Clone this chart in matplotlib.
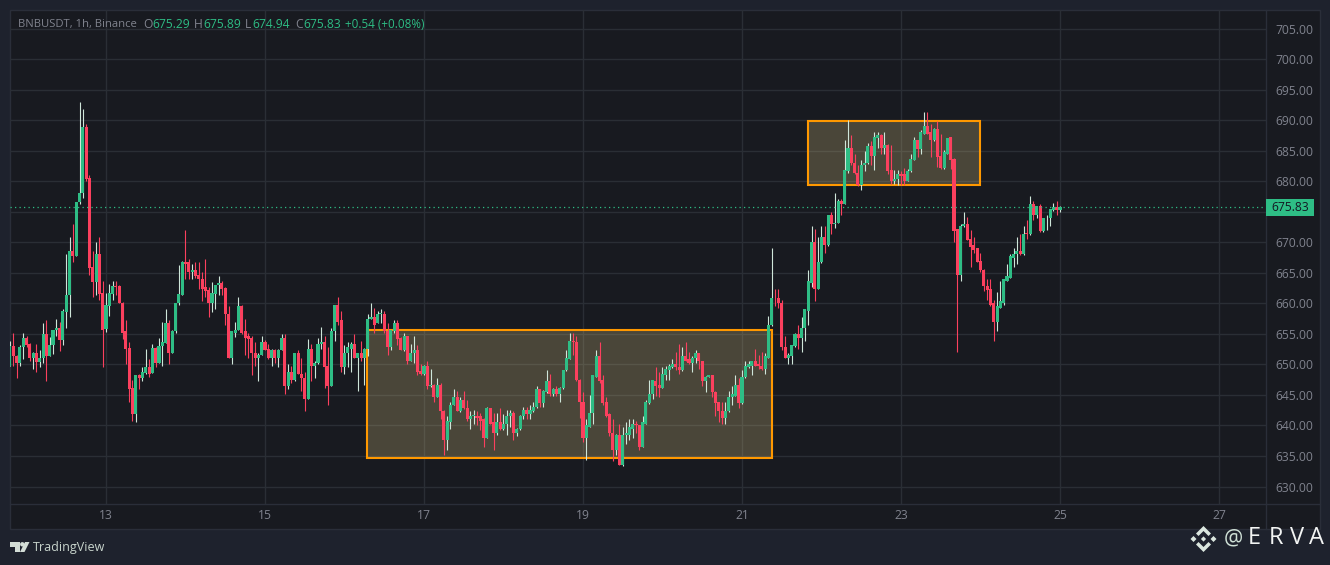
import numpy as np
import matplotlib
matplotlib.use("Agg")
import matplotlib.pyplot as plt
from matplotlib.patches import Rectangle, Polygon, Circle

opens = [649.7,653.0,651.4,650.2,652.9,654.4,653.4,651.1,651.9,650.4,
651.1,655.0,651.3,653.2,655.7,656.0,654.0,658.6,661.3,668.6,
667.8,676.6,678.0,688.8,680.6,666.0,663.5,668.1,661.7,655.8,
659.6,661.6,662.9,662.9,660.1,655.4,652.7,646.2,641.8,648.2,
647.7,648.6,649.5,648.6,652.7,650.3,653.0,653.5,656.7,651.8,
655.4,660.0,661.4,666.7,666.7,665.2,665.4,664.7,664.0,662.6,
662.2,660.1,661.6,663.0,663.4,662.5,658.3,651.0,655.2,655.7,
659.6,655.4,654.6,654.4,651.9,651.0,651.6,653.6,652.6,651.1,
652.4,651.0,652.3,654.4,646.4,648.8,647.5,651.8,648.5,647.8,
644.4,652.6,649.8,650.2,653.4,653.6,649.8,646.5,655.4,659.8,
657.2,649.5,651.8,652.6,653.3,651.1,651.9,651.0,652.6,657.4,
657.8,656.7,658.2,658.3,655.5,652.8,655.5,656.7,654.4,652.3,
654.7,650.5,651.8,652.4,648.9,648.5,649.8,646.5,646.7,644.7,
646.7,642.4,637.7,640.6,643.3,644.7,642.4,644.2,642.9,641.0,
641.5,641.6,641.5,641.0,637.9,642.8,640.5,638.8,640.5,639.5,
640.2,641.6,642.1,638.7,639.4,641.5,642.6,641.8,642.3,643.0,
645.9,643.6,645.4,647.2,645.1,646.0,645.1,646.1,649.0,650.9,
653.9,653.7,647.5,643.9,637.9,639.8,642.0,648.0,651.4,647.4,
643.8,641.8,638.8,636.0,638.5,633.6,638.5,638.5,639.5,640.2,
640.0,636.5,640.3,643.6,645.1,647.2,646.7,646.2,648.3,649.0,
649.5,650.1,649.6,649.0,651.3,650.8,650.3,651.0,651.8,650.5,
647.2,648.0,648.2,645.5,643.8,642.4,641.3,642.3,644.6,644.9,
646.7,643.6,647.9,649.5,649.8,650.6,650.0,649.8,649.2,651.1,
656.4,660.9,660.9,660.1,652.9,651.1,651.3,653.0,655.0,654.4,
655.9,658.8,663.4,670.1,662.4,666.7,670.9,669.5,674.4,673.0,
673.2,676.7,676.3,681.6,685.4,683.0,681.4,679.3,682.6,682.9,
685.7,684.2,687.0,687.6,685.4,686.0,681.9,680.1,680.3,681.1,
681.1,680.1,681.6,683.5,686.7,685.2,687.8,689.0,688.0,686.7,
688.5,684.2,682.1,684.5,687.2,683.7,672.1,664.7,672.6,673.0,
670.6,669.5,669.0,667.0,665.5,662.9,662.3,660.0,656.9,659.3,
660.1,663.7,664.2,667.5,668.0,668.6,668.0,671.4,671.3,676.3,
674.5,675.9,671.9,673.9,673.9,675.2,675.7,675.29]

highs = [653.9,655.2,651.5,653.2,655.2,654.6,653.5,652.1,653.4,652.4,
656.7,657.3,654.5,655.7,657.5,657.0,659.0,668.1,670.9,673.0,
676.6,693.0,691.9,689.4,681.0,668.6,670.0,670.9,663.7,661.7,
663.2,663.7,663.7,663.0,660.2,657.3,653.7,647.5,648.3,648.5,
649.6,652.5,650.8,653.4,652.9,654.4,657.0,659.0,657.2,655.7,
660.1,666.3,667.0,672.0,667.2,666.5,666.8,666.7,665.2,667.3,
662.6,663.5,663.0,664.4,663.6,662.7,659.5,655.5,657.0,661.1,
659.8,657.4,655.2,654.6,653.6,651.9,654.7,654.0,653.4,652.6,
652.6,652.6,654.9,654.9,650.0,649.8,651.9,652.4,651.0,648.8,
654.2,653.4,650.6,654.4,656.2,654.7,652.9,656.0,659.8,661.0,
658.7,653.2,653.6,653.7,654.9,651.9,653.9,652.7,658.2,660.0,
659.3,658.8,659.0,658.8,656.7,655.7,657.3,657.2,654.5,655.2,
654.7,653.4,654.6,653.2,650.0,649.9,650.5,649.2,646.8,647.7,
646.9,642.5,641.5,643.9,645.9,645.6,644.7,645.7,644.2,642.4,
642.6,642.4,642.0,641.2,643.0,642.9,642.0,642.1,642.8,641.8,
642.6,642.6,642.3,639.6,641.7,643.1,643.1,643.4,643.9,646.4,
646.0,645.8,649.0,648.5,646.1,646.4,646.3,649.1,652.3,655.2,
655.1,654.6,647.6,645.4,641.0,645.0,648.2,652.4,653.6,648.2,
644.7,642.0,641.0,638.6,640.3,639.7,640.6,641.0,641.1,640.7,
640.1,641.6,644.2,647.5,647.5,649.5,648.8,649.6,649.7,650.0,
650.8,652.0,653.4,652.8,653.7,652.0,651.3,652.4,651.9,650.6,
648.1,648.3,648.3,645.7,643.9,643.8,643.8,645.7,646.5,648.2,
647.7,649.0,650.5,650.5,650.6,652.6,651.6,652.0,651.8,658.0,
669.0,662.4,662.3,660.5,654.7,651.9,653.2,655.1,656.4,657.7,
659.1,665.4,672.6,672.2,670.8,672.7,672.6,674.5,675.0,678.0,
677.0,677.0,686.7,690.0,687.5,684.5,682.6,683.5,684.9,686.3,
686.5,688.0,688.0,687.7,688.0,686.1,686.0,681.9,681.9,681.6,
682.2,682.0,684.4,687.2,686.8,688.4,691.4,691.4,689.4,688.7,
689.9,687.8,685.1,687.1,687.3,683.8,672.2,673.0,675.0,674.2,
672.0,670.9,669.1,668.3,665.6,664.0,664.0,660.5,661.8,663.6,
664.0,666.4,668.0,669.1,670.8,671.4,672.6,673.6,677.5,676.7,
676.0,676.2,674.0,674.4,675.5,676.5,676.8,675.89]

lows = [649.7,649.7,647.8,649.8,650.8,652.9,650.6,649.3,648.8,649.6,
650.3,647.3,651.3,651.7,654.7,652.2,653.2,655.9,657.7,666.7,
667.8,676.2,677.3,680.0,664.7,661.0,661.3,660.6,649.5,655.3,
658.0,660.6,661.3,660.0,654.2,650.0,643.9,640.8,640.6,645.9,
647.2,648.5,648.0,648.6,649.5,650.3,649.8,653.5,650.0,651.8,
655.2,659.8,661.4,664.0,663.9,663.9,664.2,662.4,660.4,661.0,
657.7,658.5,659.0,661.3,661.3,656.5,651.0,650.1,654.5,655.7,
654.9,651.6,651.1,648.3,649.7,647.2,651.6,652.4,650.9,649.7,
650.3,649.5,652.3,645.1,645.9,646.9,647.3,648.4,645.6,642.3,
644.4,647.2,647.8,650.1,652.6,646.2,643.3,646.5,653.9,656.5,
648.8,648.5,649.5,648.8,651.1,645.7,650.6,646.7,651.3,657.4,
655.2,656.7,656.7,655.2,651.6,652.3,655.2,653.2,652.3,652.2,
650.1,650.5,650.3,648.2,648.2,648.3,645.9,646.3,643.9,644.7,
641.0,635.1,636.0,639.5,643.3,642.3,642.2,642.7,640.8,639.5,
640.3,640.0,639.3,636.5,637.9,640.2,636.0,638.5,639.3,639.2,
638.4,639.8,637.7,638.2,639.3,641.1,641.1,641.1,642.2,642.9,
643.0,643.1,645.3,644.9,644.9,644.9,643.9,646.0,648.9,650.8,
651.6,647.3,641.3,637.3,634.4,639.7,640.2,647.9,647.0,643.4,
641.4,638.2,634.2,635.2,633.5,633.4,637.0,637.7,638.0,638.8,
635.9,636.4,640.2,643.5,644.4,644.9,644.7,646.1,647.4,647.5,
649.4,649.0,648.5,648.9,650.5,650.0,648.7,650.3,649.3,646.4,
645.4,647.9,644.6,641.6,640.6,640.3,640.2,642.2,643.4,644.8,
642.9,643.5,647.8,649.4,648.3,649.7,649.2,649.1,648.5,651.0,
656.3,659.6,659.3,652.4,651.0,650.0,650.1,652.9,652.6,652.1,
653.9,656.5,662.6,660.3,662.3,666.6,668.3,669.4,671.4,672.4,
673.1,674.4,676.2,681.3,682.7,681.1,679.2,678.6,681.6,682.8,
682.7,681.9,685.4,684.4,684.5,681.2,679.6,679.5,679.3,679.3,
679.3,680.0,681.5,683.4,683.9,684.5,687.7,687.7,683.9,686.6,
682.4,682.0,682.0,684.4,682.0,670.0,652.1,663.6,672.5,670.3,
665.9,668.3,666.7,665.2,662.0,660.6,659.6,653.9,655.4,659.2,
659.8,663.6,664.1,666.0,666.5,667.9,667.9,670.6,671.2,673.6,
673.9,671.7,671.6,672.0,672.7,675.1,674.5,674.94]

closes = [653.0,651.3,650.2,652.9,654.4,653.1,651.1,651.9,650.4,651.1,
655.0,651.3,653.2,655.7,656.0,654.0,658.8,661.3,668.6,667.8,
676.6,678.1,688.8,680.4,665.8,663.5,668.1,661.6,655.7,659.8,
661.7,662.9,662.7,660.0,655.2,652.6,646.0,641.8,648.2,647.7,
648.8,649.5,648.5,652.7,650.3,653.0,653.7,656.7,651.8,655.5,
660.1,661.6,666.7,666.5,665.2,665.4,664.5,663.9,662.4,662.0,
660.1,661.7,663.0,663.4,662.4,658.2,651.0,655.4,655.7,659.6,
655.2,654.4,654.2,651.8,651.0,651.6,653.6,652.4,651.1,652.4,
651.0,652.4,654.4,646.4,648.8,647.5,651.8,648.5,647.7,644.4,
652.6,649.8,650.3,653.4,653.6,649.6,646.5,655.4,659.8,657.0,
649.5,651.9,652.8,653.3,651.1,651.9,651.0,652.6,657.5,657.8,
656.5,658.2,658.3,655.4,652.8,655.7,656.7,654.2,652.3,654.7,
650.5,651.9,652.4,648.8,648.5,649.8,646.4,646.7,644.7,646.7,
642.3,637.7,640.8,643.4,644.7,642.4,644.2,642.9,641.0,641.5,
641.6,641.3,640.8,637.9,642.8,640.3,638.8,640.5,639.5,640.3,
641.6,642.1,638.7,639.5,641.5,642.6,641.8,642.5,643.0,645.9,
643.6,645.6,647.2,645.1,646.0,645.1,646.2,649.0,651.1,653.9,
653.6,647.4,643.8,637.9,640.0,642.1,648.2,651.4,647.2,643.6,
641.6,638.7,636.0,638.5,633.6,638.5,638.7,639.7,640.3,640.0,
636.5,640.5,643.8,645.2,647.4,646.5,646.2,648.5,649.2,649.7,
650.1,649.5,649.0,651.3,650.6,650.3,651.1,651.8,650.5,647.2,
648.0,648.2,645.4,643.6,642.3,641.3,642.4,644.7,645.1,646.7,
643.6,648.0,649.7,650.0,650.6,649.8,649.8,649.2,651.3,656.5,
660.9,660.8,660.0,652.8,651.1,651.5,653.1,655.0,654.4,656.0,
659.0,663.6,670.1,662.4,666.8,670.9,669.5,674.4,673.0,673.2,
676.7,676.3,681.8,685.4,682.9,681.3,679.3,682.7,683.0,685.7,
684.2,687.2,687.6,685.4,686.0,681.7,680.1,680.4,681.1,680.9,
680.1,681.7,683.7,686.7,685.2,688.0,689.0,687.8,686.7,688.6,
684.0,682.1,684.7,687.0,683.5,671.9,664.7,672.7,673.0,670.4,
669.3,668.8,666.8,665.4,662.8,662.1,659.8,656.9,659.5,660.3,
663.9,664.4,667.7,668.1,668.6,668.0,671.4,671.3,676.3,674.5,
675.9,671.9,673.9,674.0,675.4,675.7,675.2,675.83]

day_ticks = [13, 15, 17, 19, 21, 23, 25, 27]
price_ticks = list(range(630, 710, 5))
last_price = 675.83
box_low = (78.8, 201.0, 634.6, 655.55)
box_high = (212.0, 263.8, 679.3, 689.8)

BG = "#1e222d"; PANE = "#181a20"; GRID = "#2a2e35"; TXT = "#80838e"
UP = "#2ebd85"; DOWN = "#fb405e"; UPW = "#cfe6da"; ORANGE = "#ff9800"
W, H = 1330, 565
plt.rcParams["font.family"] = ["Open Sans", "DejaVu Sans"]

o = np.array(opens); h = np.array(highs); l = np.array(lows); c = np.array(closes)
n = len(c)
x = np.arange(n) - (n - 1) + 288.0   # hours from the 13th, last bar on the 25th

fig = plt.figure(figsize=(W / 100, H / 100), dpi=100, facecolor=BG)

def rect_px(x0, y0, x1, y1):
    return [x0 / W, 1 - y1 / H, (x1 - x0) / W, (y1 - y0) / H]

back = fig.add_axes([0, 0, 1, 1], zorder=0)
back.set_xlim(0, W); back.set_ylim(H, 0); back.axis("off")
back.add_patch(Rectangle((10, 10), 1310, 519, fc=PANE, ec="#2a2e39", lw=1))
back.plot([10, 1320], [504, 504], color="#2a2e39", lw=1)
back.plot([1266, 1266], [10, 529], color="#2a2e39", lw=1)

ax = fig.add_axes(rect_px(10, 9.5, 1266, 503.5), zorder=1, facecolor="none")
ax.set_xlim((10 - 106) / 3.3125, (1266 - 106) / 3.3125)
ax.set_ylim(705 - (504 - 29) / 6.107, 705 + 19 / 6.107)
for s in ax.spines.values():
    s.set_visible(False)
ax.grid(True, color=GRID, lw=1)
ax.set_axisbelow(True)
ax.set_xticks([(d - 13) * 24 for d in day_ticks])
ax.set_xticklabels([str(d) for d in day_ticks])
ax.set_yticks(price_ticks)
# the 675.00 scale label sits behind the last-price tag in the reference
ax.set_yticklabels(["" if p == 675 else f"{p:.2f}" for p in price_ticks])
ax.yaxis.tick_right()
ax.tick_params(axis="both", length=0, colors=TXT, labelsize=8.7)
ax.tick_params(axis="y", pad=7)
ax.tick_params(axis="x", pad=4)

for (x0, x1, y0, y1) in (box_low, box_high):
    ax.add_patch(Rectangle((x0, y0), x1 - x0, y1 - y0, fc="#e0ca84", alpha=0.25, ec="none", zorder=2))
    ax.add_patch(Rectangle((x0, y0), x1 - x0, y1 - y0, fc="none", ec=ORANGE, lw=1.5, zorder=2.1))

up = c >= o
ax.vlines(x[up], l[up], h[up], color=UPW, lw=0.8, zorder=3)
ax.vlines(x[~up], l[~up], h[~up], color=DOWN, lw=0.8, zorder=3)
body = np.maximum(np.abs(c - o), 0.15)
ax.bar(x[up], body[up], bottom=np.minimum(o, c)[up], width=0.92, color=UP, lw=0, zorder=4)
ax.bar(x[~up], body[~up], bottom=np.minimum(o, c)[~up], width=0.92, color=DOWN, lw=0, zorder=4)
ax.axhline(last_price, color=UP, lw=0.9, ls=(0, (1, 2.6)), zorder=5)

top = fig.add_axes([0, 0, 1, 1], zorder=5, facecolor="none")
top.set_xlim(0, W); top.set_ylim(H, 0); top.axis("off")

# last price label
top.add_patch(Rectangle((1266, 199), 48, 17, fc=UP, ec="none", zorder=2))
top.text(1290, 207.5, f"{last_price:.2f}", color="#131722", fontsize=8.7, ha="center", va="center", zorder=3)

# legend line
hdr = [(18, "BNBUSDT, 1h, Binance", TXT, 8.1), (143, "O", TXT, 8.7), (152, "675.29", UP, 8.7), (194, "H", TXT, 8.7),
       (203, "675.89", UP, 8.7), (245, "L", TXT, 8.7), (252, "674.94", UP, 8.7), (295, "C", TXT, 8.7),
       (303, "675.83", UP, 8.7), (345, "+0.54 (+0.08%)", UP, 8.4)]
for px, s, col, fs in hdr:
    top.text(px, 24.5, s, color=col, fontsize=fs, ha="left", va="center")

# TradingView mark
TVC = "#d3ddd6"
top.add_patch(Polygon([(10, 542), (20, 542), (20, 552), (15, 552), (15, 547), (10, 547)], fc=TVC, ec="none"))
top.add_patch(Circle((22.3, 544.3), 2.2, fc=TVC, ec="none"))
top.add_patch(Polygon([(25, 542), (29.5, 542), (24.5, 552), (20, 552)], fc=TVC, ec="none"))
top.text(33, 547.5, "TradingView", color="#c8d4cc", fontsize=9, ha="left", va="center")

# Binance mark and handle
BN = "#dbe7df"
cx, cy = 1203.5, 539
def diamond(dx, dy, r):
    top.add_patch(Polygon([(cx + dx, cy + dy - r), (cx + dx + r, cy + dy), (cx + dx, cy + dy + r), (cx + dx - r, cy + dy)], fc=BN, ec="none"))
diamond(0, 0, 2.6); diamond(-10, 0, 3); diamond(10, 0, 3)
top.add_patch(Polygon([(cx, cy - 13), (cx + 7.5, cy - 5.5), (cx + 5, cy - 3), (cx, cy - 8), (cx - 5, cy - 3), (cx - 7.5, cy - 5.5)], fc=BN, ec="none"))
top.add_patch(Polygon([(cx, cy + 13), (cx + 7.5, cy + 5.5), (cx + 5, cy + 3), (cx, cy + 8), (cx - 5, cy + 3), (cx - 7.5, cy + 5.5)], fc=BN, ec="none"))
top.text(1233.5, 538.5, "@", color="#cfe0d6", fontsize=15.5, ha="center", va="center")
for px, s in zip((1254.5, 1276, 1297.5, 1316.5), "ERVA"):
    top.text(px, 538.5, s, color="#f2f4f3", fontsize=17, ha="center", va="center")

fig.savefig("out.png", dpi=100, facecolor=BG)
